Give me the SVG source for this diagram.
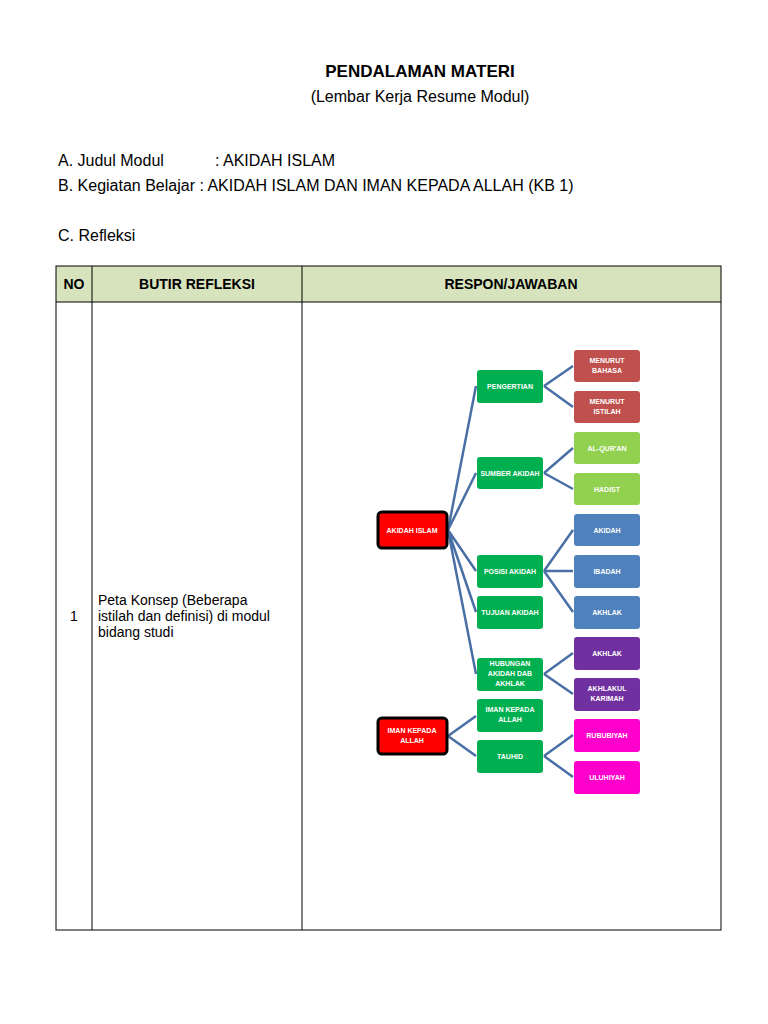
<svg xmlns="http://www.w3.org/2000/svg" width="768" height="1024" viewBox="0 0 768 1024">
<style>
text{font-family:"Liberation Sans",Arial,sans-serif;fill:#000}
.h{font-size:16px}
.b{font-weight:bold;font-size:14px}
.n{font-size:7px;font-weight:bold;fill:#fff;text-anchor:middle}
.g{fill:#00b050}
.r{fill:#c0504d}
.l{fill:#92d050}
.bl{fill:#4f81bd}
.p{fill:#7030a0}
.m{fill:#ff00cc}
.root{fill:#ff0000;stroke:#000;stroke-width:3}
.c{stroke:#4a6fa5;stroke-width:2.5;fill:none}
</style>
<rect width="768" height="1024" fill="#fff"/>
<text x="420" y="77" text-anchor="middle" style="font-size:17px;font-weight:bold">PENDALAMAN MATERI</text>
<text x="420" y="102" text-anchor="middle" class="h">(Lembar Kerja Resume Modul)</text>
<text x="58" y="166" class="h">A. Judul Modul</text>
<text x="215" y="166" class="h">: AKIDAH ISLAM</text>
<text x="58" y="191" class="h">B. Kegiatan  Belajar : AKIDAH  ISLAM  DAN  IMAN  KEPADA  ALLAH  (KB  1)</text>
<text x="58" y="241" class="h">C. Refleksi</text>
<rect x="56" y="266" width="665" height="36" fill="#d6e3bc"/>
<g stroke="#000" stroke-width="1" fill="none">
<rect x="56" y="266" width="665" height="664"/>
<line x1="56" y1="302" x2="721" y2="302"/>
<line x1="92" y1="266" x2="92" y2="930"/>
<line x1="302" y1="266" x2="302" y2="930"/>
</g>
<text x="74" y="289" text-anchor="middle" class="b">NO</text>
<text x="197" y="289" text-anchor="middle" class="b">BUTIR REFLEKSI</text>
<text x="511" y="289" text-anchor="middle" class="b">RESPON/JAWABAN</text>
<text x="74" y="621" text-anchor="middle" style="font-size:14px">1</text>
<text x="98" y="605" style="font-size:14px">Peta Konsep (Beberapa</text>
<text x="98" y="621" style="font-size:14px">istilah dan definisi) di modul</text>
<text x="98" y="637" style="font-size:14px">bidang studi</text>
<g id="connectors" class="c">
<path d="M448 530 L476 386 M448 530 L476 473 M448 530 L476 571 M448 530 L476 612 M448 530 L476 674"/>
<path d="M448 736 L476 716 M448 736 L476 756"/>
<path d="M544 386 L573 366 M544 386 L573 407 M544 473 L573 448 M544 473 L573 489 M544 571 L573 530 M544 571 L573 571 M544 571 L573 612 M544 674 L573 653 M544 674 L573 694 M544 756 L573 735 M544 756 L573 777"/>
</g>
<g id="akidah-islam"><rect class="root" x="378" y="512" width="69" height="36" rx="4"/><text class="n" x="412" y="533">AKIDAH ISLAM</text></g>
<g id="iman-root"><rect class="root" x="378" y="718" width="69" height="36" rx="4"/><text class="n" x="412" y="733">IMAN KEPADA</text><text class="n" x="412" y="743">ALLAH</text></g>
<g id="pengertian"><rect class="g" x="477" y="370" width="66" height="33" rx="3"/><text class="n" x="510" y="389">PENGERTIAN</text></g>
<g id="sumber"><rect class="g" x="477" y="457" width="66" height="32" rx="3"/><text class="n" x="510" y="476">SUMBER AKIDAH</text></g>
<g id="posisi"><rect class="g" x="477" y="555" width="66" height="33" rx="3"/><text class="n" x="510" y="574">POSISI AKIDAH</text></g>
<g id="tujuan"><rect class="g" x="477" y="596" width="66" height="33" rx="3"/><text class="n" x="510" y="615">TUJUAN AKIDAH</text></g>
<g id="hubungan"><rect class="g" x="477" y="658" width="66" height="33" rx="3"/><text class="n" x="510" y="666">HUBUNGAN</text><text class="n" x="510" y="676">AKIDAH DAB</text><text class="n" x="510" y="686">AKHLAK</text></g>
<g id="iman"><rect class="g" x="477" y="699" width="66" height="33" rx="3"/><text class="n" x="510" y="712">IMAN KEPADA</text><text class="n" x="510" y="722">ALLAH</text></g>
<g id="tauhid"><rect class="g" x="477" y="740" width="66" height="33" rx="3"/><text class="n" x="510" y="759">TAUHID</text></g>
<g id="bahasa"><rect class="r" x="574" y="350" width="66" height="32" rx="3"/><text class="n" x="607" y="363">MENURUT</text><text class="n" x="607" y="373">BAHASA</text></g>
<g id="istilah"><rect class="r" x="574" y="391" width="66" height="32" rx="3"/><text class="n" x="607" y="404">MENURUT</text><text class="n" x="607" y="414">ISTILAH</text></g>
<g id="quran"><rect class="l" x="574" y="432" width="66" height="32" rx="3"/><text class="n" x="607" y="451">AL-QUR'AN</text></g>
<g id="hadist"><rect class="l" x="574" y="473" width="66" height="32" rx="3"/><text class="n" x="607" y="492">HADIST</text></g>
<g id="akidah"><rect class="bl" x="574" y="514" width="66" height="32" rx="3"/><text class="n" x="607" y="533">AKIDAH</text></g>
<g id="ibadah"><rect class="bl" x="574" y="555" width="66" height="33" rx="3"/><text class="n" x="607" y="574">IBADAH</text></g>
<g id="akhlak1"><rect class="bl" x="574" y="596" width="66" height="33" rx="3"/><text class="n" x="607" y="615">AKHLAK</text></g>
<g id="akhlak2"><rect class="p" x="574" y="637" width="66" height="33" rx="3"/><text class="n" x="607" y="656">AKHLAK</text></g>
<g id="karimah"><rect class="p" x="574" y="678" width="66" height="33" rx="3"/><text class="n" x="607" y="691">AKHLAKUL</text><text class="n" x="607" y="701">KARIMAH</text></g>
<g id="rububiyah"><rect class="m" x="574" y="719" width="66" height="33" rx="3"/><text class="n" x="607" y="738">RUBUBIYAH</text></g>
<g id="uluhiyah"><rect class="m" x="574" y="761" width="66" height="33" rx="3"/><text class="n" x="607" y="780">ULUHIYAH</text></g>
</svg>
